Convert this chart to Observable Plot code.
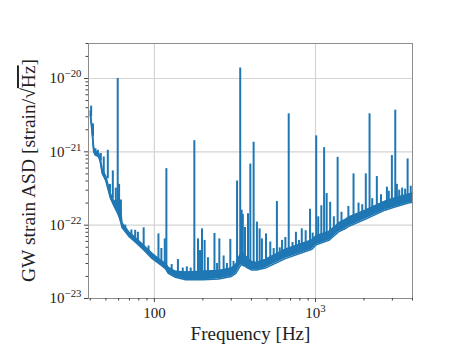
<!DOCTYPE html>
<html><head><meta charset="utf-8">
<script src="https://cdn.jsdelivr.net/npm/d3@7"></script>
<script src="https://cdn.jsdelivr.net/npm/@observablehq/plot@0.6"></script>
<style>body{margin:0;background:#fff} svg{display:block}</style>
</head><body><div id="chart"></div>
<script>
// Broadband noise floor (lower/upper edge of the dense band)
const bandFreq = [40, 41, 42, 43, 45, 46, 47.4, 50, 53.3, 56, 58.7, 60, 61.5, 63, 70, 76, 85, 97, 110, 117, 122, 135, 156, 200, 250, 300, 320, 335, 345, 360, 380, 400, 430, 488, 650, 950, 1010, 1209, 1400, 1534, 1600, 2032, 2698, 3000, 3765, 4000];
const bandLow  = [3.2e-21, 1.9e-21, 1.0e-21, 9.0e-22, 8.6e-22, 7.5e-22, 5.1e-22, 4.0e-22, 2.35e-22, 1.85e-22, 1.5e-22, 1.35e-22, 1.15e-22, 9.3e-23, 6.9e-23, 5.9e-23, 4.7e-23, 3.5e-23, 2.85e-23, 2.55e-23, 2.2e-23, 1.95e-23, 1.8e-23, 1.8e-23, 1.85e-23, 2.0e-23, 2.2e-23, 2.6e-23, 2.9e-23, 2.8e-23, 2.6e-23, 2.45e-23, 2.45e-23, 2.6e-23, 3.5e-23, 4.7e-23, 5.4e-23, 6.2e-23, 8.2e-23, 9.0e-23, 9.6e-23, 1.2e-22, 1.6e-22, 1.72e-22, 2.0e-22, 2.05e-22];
const bandHigh = [3.6e-21, 2.15e-21, 1.15e-21, 1.02e-21, 9.6e-22, 8.4e-22, 5.8e-22, 4.6e-22, 2.7e-22, 2.15e-22, 2.1e-22, 2.6e-22, 1.7e-22, 1.07e-22, 7.9e-23, 6.8e-23, 5.4e-23, 4.1e-23, 3.3e-23, 3.0e-23, 2.65e-23, 2.35e-23, 2.3e-23, 2.35e-23, 2.4e-23, 2.6e-23, 2.9e-23, 3.7e-23, 4.2e-23, 4.0e-23, 3.5e-23, 3.2e-23, 3.1e-23, 3.4e-23, 4.7e-23, 6.3e-23, 7.2e-23, 8.2e-23, 1.08e-22, 1.2e-22, 1.28e-22, 1.6e-22, 2.12e-22, 2.3e-22, 2.65e-22, 2.75e-22];

// Narrow spectral lines
const spikeFreq = [40.5, 41.6, 43.1, 44.6, 46.5, 48.5, 51.4, 53.0, 55.2, 57.6, 59.2, 60.4, 62.0, 66, 72, 76, 79, 85.8, 92, 106, 110.5, 116, 118.7, 128, 140, 150, 159, 168, 177, 186.5, 192, 197.5, 205, 215, 236, 245, 253, 269, 282, 296, 310, 326, 341, 348, 354, 365, 381, 394, 413, 433, 450, 465, 493, 524, 550, 576, 600, 620, 650, 682, 720, 756, 790, 822, 869, 925, 960, 1010, 1040, 1087, 1131, 1173, 1233, 1300, 1372, 1450, 1600, 1722, 1850, 1950, 2052, 2165, 2250, 2403, 2550, 2774, 2850, 2979, 3127, 3200, 3308, 3450, 3600, 3730, 3900];
const spikeBase = [3.0e-21, 1.6e-21, 9.0e-22, 8.8e-22, 7.5e-22, 4.6e-22, 4.3e-22, 2.8e-22, 2.3e-22, 1.8e-22, 1.6e-22, 1.5e-22, 1.1e-22, 8.5e-23, 6.8e-23, 6.3e-23, 5.9e-23, 5.0e-23, 4.2e-23, 3.3e-23, 3.1e-23, 2.8e-23, 2.7e-23, 2.3e-23, 2.1e-23, 2.0e-23, 2.0e-23, 2.0e-23, 2.0e-23, 2.0e-23, 2.0e-23, 2.0e-23, 2.0e-23, 2.0e-23, 2.1e-23, 2.1e-23, 2.1e-23, 2.2e-23, 2.2e-23, 2.3e-23, 2.4e-23, 2.6e-23, 3.0e-23, 3.3e-23, 3.3e-23, 3.1e-23, 2.9e-23, 2.7e-23, 2.7e-23, 2.8e-23, 2.8e-23, 2.9e-23, 3.0e-23, 3.2e-23, 3.4e-23, 3.5e-23, 3.7e-23, 3.8e-23, 4.0e-23, 4.1e-23, 4.3e-23, 4.5e-23, 4.7e-23, 4.9e-23, 5.1e-23, 5.4e-23, 5.6e-23, 6.0e-23, 6.2e-23, 6.5e-23, 6.7e-23, 6.9e-23, 7.5e-23, 8.0e-23, 9.0e-23, 9.5e-23, 1.05e-22, 1.15e-22, 1.25e-22, 1.3e-22, 1.4e-22, 1.45e-22, 1.5e-22, 1.6e-22, 1.7e-22, 1.85e-22, 1.9e-22, 2.0e-22, 2.1e-22, 2.1e-22, 2.15e-22, 2.2e-22, 2.25e-22, 2.3e-22, 2.4e-22];
const spikePeak = [4.2e-21, 2.4e-21, 1.1e-21, 1.05e-21, 9.5e-22, 8.5e-22, 1.05e-21, 3.6e-22, 5.5e-22, 3.2e-22, 1.0e-20, 3.6e-22, 2.2e-22, 1.0e-22, 8.6e-23, 8.5e-23, 8.0e-23, 9.2e-23, 5.2e-23, 7.6e-23, 4.8e-23, 6.5e-23, 5.9e-22, 2.9e-23, 3.4e-23, 2.6e-23, 2.7e-23, 2.6e-23, 1.42e-21, 6.5e-23, 4.5e-23, 8.9e-23, 6.2e-23, 3.6e-23, 7.7e-23, 3.0e-23, 6.5e-23, 3.8e-23, 3.0e-23, 6.4e-23, 3.2e-23, 4.0e-22, 1.39e-20, 1.6e-22, 1.4e-22, 9.3e-23, 1.43e-22, 6.8e-22, 1.35e-21, 1.1e-22, 8.9e-23, 6.5e-23, 7.6e-23, 5.9e-23, 4.8e-23, 2.1e-22, 4.9e-23, 6.2e-23, 6.8e-23, 3.3e-21, 5.8e-23, 8.0e-23, 6.2e-23, 8.9e-23, 8.4e-23, 1.65e-22, 7.8e-23, 1.65e-21, 1.3e-22, 1.84e-22, 1.14e-21, 2.7e-22, 2.05e-22, 1.3e-22, 8.4e-22, 1.5e-22, 1.8e-22, 5.0e-22, 2.0e-22, 1.9e-22, 5.0e-22, 3.3e-21, 2.3e-22, 4.6e-22, 2.6e-22, 3.3e-22, 2.9e-22, 8.9e-22, 3.7e-21, 3.6e-22, 3.0e-22, 3.2e-22, 3.1e-22, 8.0e-22, 3.4e-22];

// Ticks
const xMajorTicks = [100, 1000];
const xTickLabels = ["100", "10^3"];
const xMinorTicks = [40, 50, 60, 70, 80, 90, 200, 300, 400, 500, 600, 700, 800, 900, 2000, 3000, 4000];
const yMajorTicks = [1e-23, 1e-22, 1e-21, 1e-20];
const yTickLabels = ["10^\u221223", "10^\u221222", "10^\u221221", "10^\u221220"];
const yMinorTicks = [2e-23, 3e-23, 4e-23, 5e-23, 6e-23, 7e-23, 8e-23, 9e-23, 2e-22, 3e-22, 4e-22, 5e-22, 6e-22, 7e-22, 8e-22, 9e-22, 2e-21, 3e-21, 4e-21, 5e-21, 6e-21, 7e-21, 8e-21, 9e-21, 2e-20, 3e-20];

const band = bandFreq.map((f, i) => ({f, lo: bandLow[i], hi: bandHigh[i]}));
const spikes = spikeFreq.map((f, i) => ({f, base: spikeBase[i], peak: spikePeak[i]}));

const blue = "#1f77b4";
const font = "'Liberation Serif', 'DejaVu Serif', serif";

const svg = Plot.plot({
  width: 474, height: 355,
  marginLeft: 88, marginRight: 62, marginTop: 43, marginBottom: 57,
  style: {fontFamily: font, fontSize: "15px", background: "white", color: "#222"},
  x: {type: "log", domain: [39, 4000]},
  y: {type: "log", domain: [1e-23, 3e-20]},
  marks: [
    Plot.gridX(xMajorTicks, {stroke: "#d4d4d4", strokeOpacity: 1, strokeWidth: 1.2}),
    Plot.gridY(yMajorTicks, {stroke: "#d4d4d4", strokeOpacity: 1, strokeWidth: 1.2}),
    Plot.areaY(band, {x: "f", y1: "lo", y2: "hi", fill: blue}),
    Plot.lineY(band, {x: "f", y: "lo", stroke: blue, strokeWidth: 1.5}),
    Plot.lineY(band, {x: "f", y: "hi", stroke: blue, strokeWidth: 1.5}),
    Plot.ruleX(spikes, {x: "f", y1: "base", y2: "peak", stroke: blue, strokeWidth: 2}),
    Plot.frame({stroke: "#8c8c8c", strokeWidth: 1}),
    Plot.axisX(xMinorTicks, {tickSize: 2.5, tickFormat: () => "", label: null, stroke: "#444"}),
    Plot.axisX(xMajorTicks, {tickSize: 4, tickPadding: 5, label: null, stroke: "#444",
      tickFormat: d => xTickLabels[xMajorTicks.indexOf(d)]}),
    Plot.axisY(yMinorTicks, {tickSize: 2.5, tickFormat: () => "", label: null, stroke: "#444"}),
    Plot.axisY(yMajorTicks, {tickSize: 4, tickPadding: 3, label: null, stroke: "#444",
      tickFormat: d => yTickLabels[yMajorTicks.indexOf(d)]})
  ]
});

// Turn "10^e" labels into base + superscript tspans; serif everywhere
d3.select(svg).selectAll("g").attr("font-family", font);
d3.select(svg).selectAll("text").attr("font-family", font).each(function () {
  const t = this.textContent;
  if (t.includes("^")) {
    const [b, e] = t.split("^");
    const sel = d3.select(this);
    sel.text(null);
    sel.append("tspan").text(b);
    sel.append("tspan").attr("dy", "-0.55em").attr("font-size", "0.72em").text(e);
  }
});

// Axis titles
const s = d3.select(svg);
s.append("text")
  .attr("x", 250.5).attr("y", 340)
  .attr("text-anchor", "middle")
  .attr("font-family", font).attr("font-size", 19).attr("fill", "#222")
  .text("Frequency [Hz]");
const yl = s.append("text")
  .attr("transform", "translate(35,170.5) rotate(-90)")
  .attr("text-anchor", "middle")
  .attr("font-family", font).attr("font-size", 19.5).attr("fill", "#222");
yl.append("tspan").text("GW strain ASD [strain/\u221A");
yl.append("tspan").style("text-decoration", "overline").text("Hz");
yl.append("tspan").text("]");

document.getElementById("chart").appendChild(svg);
</script>
</body></html>
